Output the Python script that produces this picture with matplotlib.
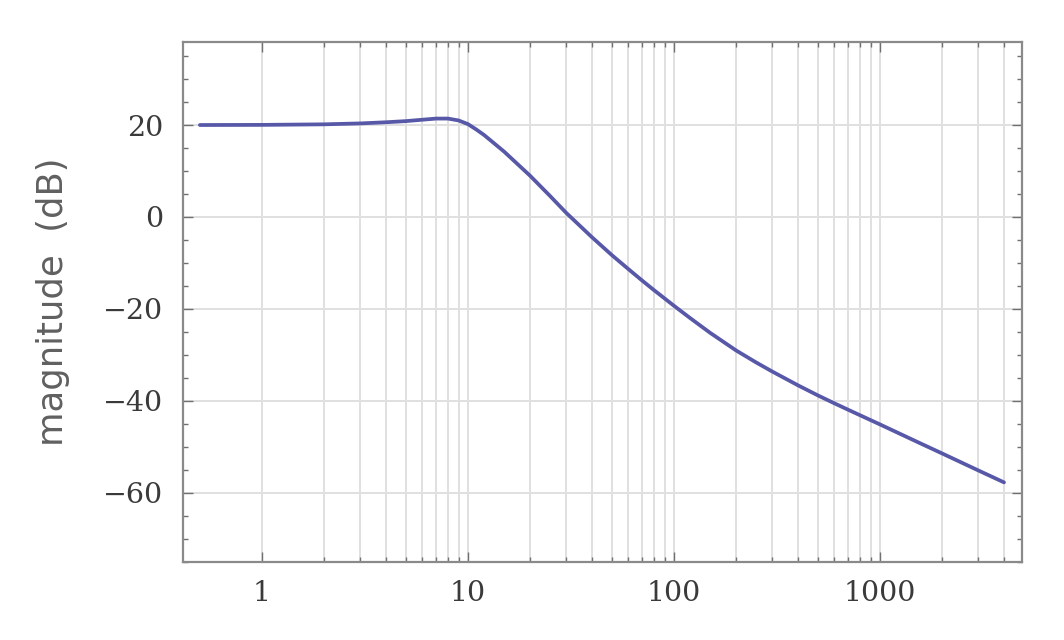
import numpy as np
import matplotlib.pyplot as plt
from matplotlib.ticker import FixedLocator, NullFormatter

# frequency and magnitude
freq = [0.5, 1, 2, 3, 4, 5, 6, 7, 8, 9, 10, 11, 12, 15, 20, 25, 30, 40, 50, 60, 70, 80,
        100, 120, 150, 200, 250, 300, 400, 500, 600, 700, 800, 1000, 1500, 2000, 3000, 4000]
mag_db = [20.0, 20.03, 20.15, 20.35, 20.6, 20.85, 21.15, 21.4, 21.4, 21.0, 20.2, 19.0, 17.8,
          14.2, 9.0, 4.6, 0.9, -4.4, -8.3, -11.3, -13.8, -15.9,
          -19.3, -22.0, -25.2, -29.0, -31.6, -33.6, -36.6, -38.8, -40.5, -41.9, -43.1,
          -45.1, -48.8, -51.4, -55.1, -57.7]

x_ticks = [1, 10, 100, 1000]
x_labels = ['1', '10', '100', '1000']
y_ticks = [-60, -40, -20, 0, 20]

fig = plt.figure(figsize=(10.64, 6.4), dpi=100)
ax = fig.add_axes([0.172, 0.122, 0.7885, 0.812])

ax.plot(freq, mag_db, color='#5858a8', lw=2.7, solid_capstyle='round',
        solid_joinstyle='round', zorder=3)

ax.set_xscale('log')
ax.set_xlim(0.414, 4890)
ax.set_ylim(-75, 38)

# light grid, no lines below 1
minor_grid = [m * 10**e for e in range(0, 4) for m in range(2, 10) if m * 10**e < 4890]
ax.set_xticks(x_ticks)
ax.set_xticklabels(x_labels)
ax.xaxis.set_minor_locator(FixedLocator(minor_grid))
ax.xaxis.set_minor_formatter(NullFormatter())
for v in x_ticks + minor_grid:
    ax.axvline(v, color='#e0e0e0', lw=1.4, zorder=1)

ax.set_yticks(y_ticks)
ax.set_yticklabels([('\u2212' + str(-t)) if t < 0 else str(t) for t in y_ticks])
ax.yaxis.set_minor_locator(FixedLocator(np.arange(-75, 40, 5)))
for v in y_ticks:
    ax.axhline(v, color='#e0e0e0', lw=1.4, zorder=1)

for s in ax.spines.values():
    s.set_color('#8a8a8a')
    s.set_linewidth(1.6)

ax.tick_params(which='both', direction='in', top=True, right=True, color='#707070', width=1.0)
ax.tick_params(which='major', length=7)
ax.tick_params(which='minor', length=3.5)
ax.tick_params(axis='y', which='major', pad=14)
ax.tick_params(axis='x', which='major', pad=13)

for lab in ax.get_xticklabels() + ax.get_yticklabels():
    lab.set_fontfamily('DejaVu Serif')
    lab.set_fontsize(20.5)
    lab.set_color('#3a3a3a')

ax.set_ylabel('magnitude  (dB)', fontsize=25.5, color='#606060', family='DejaVu Sans')
ax.yaxis.set_label_coords(-0.135, 0.5)

fig.savefig('out.png', dpi=100)
